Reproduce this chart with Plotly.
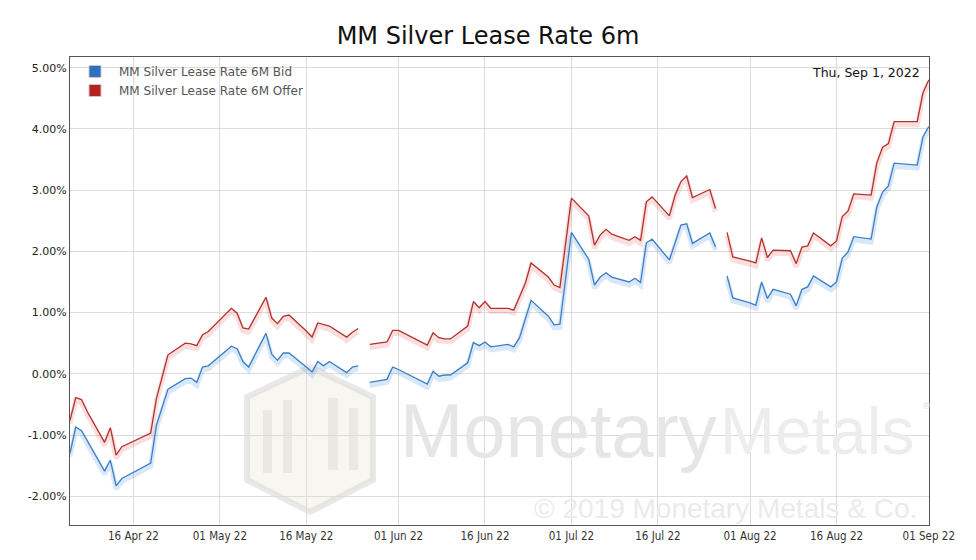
import plotly.graph_objects as go

# ---------------- data ----------------
dates = [
    "2022-04-05", "2022-04-06", "2022-04-07", "2022-04-08",
    "2022-04-11", "2022-04-12", "2022-04-13", "2022-04-14",
    "2022-04-19", "2022-04-20", "2022-04-21", "2022-04-22",
    "2022-04-25", "2022-04-26", "2022-04-27", "2022-04-28", "2022-04-29",
    "2022-05-03", "2022-05-04", "2022-05-05", "2022-05-06",
    "2022-05-09", "2022-05-10", "2022-05-11", "2022-05-12", "2022-05-13",
    "2022-05-16", "2022-05-17", "2022-05-18", "2022-05-19", "2022-05-20",
    "2022-05-23", "2022-05-24", "2022-05-25", "2022-05-26", "2022-05-27",
    "2022-05-30", "2022-05-31", "2022-06-01",
    "2022-06-06", "2022-06-07", "2022-06-08", "2022-06-09", "2022-06-10",
    "2022-06-13", "2022-06-14", "2022-06-15", "2022-06-16", "2022-06-17",
    "2022-06-20", "2022-06-21", "2022-06-22", "2022-06-23", "2022-06-24",
    "2022-06-27", "2022-06-28", "2022-06-29", "2022-06-30", "2022-07-01",
    "2022-07-04", "2022-07-05", "2022-07-06", "2022-07-07", "2022-07-08",
    "2022-07-11", "2022-07-12", "2022-07-13", "2022-07-14", "2022-07-15",
    "2022-07-18", "2022-07-19", "2022-07-20", "2022-07-21", "2022-07-22",
    "2022-07-25", "2022-07-26", "2022-07-27", "2022-07-28", "2022-07-29",
    "2022-08-01", "2022-08-02", "2022-08-03", "2022-08-04", "2022-08-05",
    "2022-08-08", "2022-08-09", "2022-08-10", "2022-08-11", "2022-08-12",
    "2022-08-15", "2022-08-16", "2022-08-17", "2022-08-18", "2022-08-19",
    "2022-08-22", "2022-08-23", "2022-08-24", "2022-08-25", "2022-08-26",
    "2022-08-30", "2022-08-31", "2022-09-01",
]

bid = [
    -1.30, -0.87, -0.93, -1.10,
    -1.59, -1.41, -1.83, -1.71,
    -1.46, -0.84, -0.56, -0.25,
    -0.08, -0.07, -0.14, 0.11, 0.13,
    0.45, 0.41, 0.20, 0.11,
    0.66, 0.32, 0.22, 0.34, 0.34,
    0.11, 0.03, 0.20, 0.13, 0.20,
    0.02, 0.11, 0.13, None, -0.14,
    -0.09, 0.11, 0.07,
    -0.17, 0.04, -0.04, -0.02, -0.02,
    0.18, 0.51, 0.46, 0.52, 0.44,
    0.48, 0.44, 0.59, 0.91, 1.20,
    0.94, 0.80, 0.81, 1.56, 2.31,
    1.87, 1.45, 1.58, 1.65, 1.58,
    1.50, 1.56, 1.49, 2.14, 2.20,
    1.86, 2.15, 2.43, 2.45, 2.13,
    2.30, 2.07, None, 1.60, 1.24,
    1.16, 1.12, 1.50, 1.23, 1.38,
    1.30, 1.11, 1.38, 1.42, 1.60,
    1.42, 1.50, 1.89, 1.99, 2.24,
    2.20, 2.73, 2.97, 3.07, 3.44,
    3.41, 3.87, 4.04,
]

offer = [
    -0.76, -0.39, -0.42, -0.62,
    -1.12, -0.88, -1.33, -1.19,
    -0.97, -0.40, -0.05, 0.31,
    0.50, 0.49, 0.46, 0.64, 0.69,
    1.07, 0.99, 0.75, 0.73,
    1.25, 0.91, 0.82, 0.94, 0.96,
    0.70, 0.60, 0.83, 0.80, 0.78,
    0.60, 0.68, 0.74, None, 0.48,
    0.52, 0.71, 0.71,
    0.47, 0.67, 0.59, 0.57, 0.57,
    0.78, 1.18, 1.08, 1.18, 1.07,
    1.07, 1.04, 1.26, 1.48, 1.81,
    1.58, 1.45, 1.41, 2.13, 2.87,
    2.58, 2.10, 2.27, 2.36, 2.28,
    2.18, 2.24, 2.18, 2.81, 2.89,
    2.58, 2.92, 3.14, 3.23, 2.88,
    3.01, 2.70, None, 2.31, 1.91,
    1.84, 1.81, 2.22, 1.90, 2.02,
    2.01, 1.80, 2.07, 2.09, 2.30,
    2.09, 2.17, 2.57, 2.66, 2.94,
    2.92, 3.45, 3.70, 3.76, 4.12,
    4.12, 4.59, 4.80,
]

x_ticks = ["2022-04-16", "2022-05-01", "2022-05-16", "2022-06-01", "2022-06-16",
           "2022-07-01", "2022-07-16", "2022-08-01", "2022-08-16", "2022-09-01"]
y_ticks = [-2, -1, 0, 1, 2, 3, 4, 5]
y_ticktext = [f"{v:.2f}%" for v in y_ticks]

assert len(dates) == len(bid) == len(offer)

# ---------------- style ----------------
BLUE = "#3b7dc6"
RED = "#b3302c"
Y_RANGE = [-2.47, 5.175]
SHADOW_SHIFT = 0.05  # shadow drawn slightly below the line

W, H = 976, 560
ML, MR, MT, MB = 70, 47, 57, 35
PW, PH = W - ML - MR, H - MT - MB


def px(x):
    return (x - ML) / PW


def py(y):
    return (H - MB - y) / PH


fig = go.Figure()

# soft shadows (base y axis, shifted range)
for vals, col in ((bid, "rgba(80,150,225,0.22)"), (offer, "rgba(225,90,90,0.20)")):
    fig.add_trace(go.Scatter(x=dates, y=vals, mode="lines", yaxis="y",
                             line=dict(color=col, width=5), connectgaps=False,
                             showlegend=False, hoverinfo="skip"))

# main lines (overlay axis carrying the visible scale)
fig.add_trace(go.Scatter(x=dates, y=bid, mode="lines", yaxis="y2", name="MM Silver Lease Rate 6M Bid",
                         line=dict(color=BLUE, width=1.3), connectgaps=False, showlegend=False))
fig.add_trace(go.Scatter(x=dates, y=offer, mode="lines", yaxis="y2", name="MM Silver Lease Rate 6M Offer",
                         line=dict(color=RED, width=1.3), connectgaps=False, showlegend=False))

# legend entries as squares
for name, col in (("MM Silver Lease Rate 6M Bid", "#2f6fbf"), ("MM Silver Lease Rate 6M Offer", "#b5231e")):
    fig.add_trace(go.Scatter(x=[None], y=[None], mode="markers", name=name,
                             marker=dict(symbol="square", size=12, color=col,
                                         line=dict(color="#c8c8c8", width=1))))

# watermark
wm_shapes = []
hexpts = [(310, 367), (373, 397), (373, 480), (310, 512), (247, 480), (247, 397)]
path = "M " + " L ".join(f"{px(a):.4f},{py(b):.4f}" for a, b in hexpts) + " Z"
wm_shapes.append(dict(type="path", xref="paper", yref="paper", path=path, layer="below",
                      fillcolor="rgba(240,236,222,0.45)", line=dict(color="rgba(215,215,215,0.55)", width=6)))
for (x0, x1, y0, y1) in ((263, 272, 410, 473), (283, 292, 400, 473), (328, 338, 398, 470), (349, 358, 408, 470)):
    wm_shapes.append(dict(type="rect", xref="paper", yref="paper", layer="below",
                          x0=px(x0), x1=px(x1), y0=py(y1), y1=py(y0),
                          fillcolor="rgba(215,215,215,0.45)", line=dict(width=0)))

annotations = [
    dict(text="Monetary", xref="paper", yref="paper", x=px(719), y=py(430), xanchor="right", yanchor="middle",
         showarrow=False, font=dict(family="Liberation Sans", size=76, color="#e6e6e6")),
    dict(text="Metals", xref="paper", yref="paper", x=px(718), y=py(431), xanchor="left", yanchor="middle",
         showarrow=False, font=dict(family="Liberation Sans", size=66, color="#ededed", weight=300)),
    dict(text="®", xref="paper", yref="paper", x=px(920), y=py(406), xanchor="left", yanchor="middle",
         showarrow=False, font=dict(family="DejaVu Sans", size=9, color="#e3e3e3")),
    dict(text="© 2019 Monetary Metals & Co.", xref="paper", yref="paper", x=px(919), y=py(508),
         xanchor="right", yanchor="middle", showarrow=False,
         font=dict(family="Liberation Sans", size=28, color="#ebebeb")),
    dict(text="Thu, Sep 1, 2022", xref="paper", yref="paper", x=px(922), y=py(72),
         xanchor="right", yanchor="middle", showarrow=False,
         font=dict(family="DejaVu Sans", size=12.5, color="#111111")),
]

fig.update_layout(
    width=W, height=H,
    margin=dict(l=ML, r=MR, t=MT, b=MB, pad=0),
    paper_bgcolor="white", plot_bgcolor="white",
    font=dict(family="DejaVu Sans", size=11, color="#333333"),
    title=dict(text="MM Silver Lease Rate 6m", x=0.5, xanchor="center", y=1 - 36 / H, yanchor="middle",
               yref="container", font=dict(family="DejaVu Sans", size=24, color="#111111")),
    xaxis=dict(type="date", range=["2022-04-05", "2022-09-01 01:00"], tickvals=x_ticks, tickformat="%d %b %y",
               showgrid=True, gridcolor="#dcdcdc", gridwidth=1, zeroline=False,
               showline=True, linecolor="#555555", linewidth=1.2, mirror=True, ticks="",
               tickfont=dict(family="DejaVu Sans Condensed, DejaVu Sans", size=11.5, color="#333333")),
    yaxis=dict(range=[Y_RANGE[0] + SHADOW_SHIFT, Y_RANGE[1] + SHADOW_SHIFT], visible=False,
               showgrid=False, zeroline=False, fixedrange=True),
    yaxis2=dict(range=Y_RANGE, overlaying="y", side="left", anchor="x", tickmode="array",
                tickvals=y_ticks, ticktext=y_ticktext, showgrid=True, gridcolor="#dcdcdc", gridwidth=1,
                zeroline=False, showline=True, linecolor="#555555", linewidth=1.2, mirror=True, ticks="",
                tickfont=dict(family="DejaVu Sans", size=11, color="#222222")),
    legend=dict(x=px(71), y=py(57), xanchor="left", yanchor="top", bgcolor="rgba(0,0,0,0)",
                font=dict(family="DejaVu Sans", size=12, color="#555555"), tracegroupgap=0,
                itemwidth=38),
    shapes=wm_shapes,
    annotations=annotations,
    showlegend=True,
    hovermode="x",
)

fig.write_html("out.html")
